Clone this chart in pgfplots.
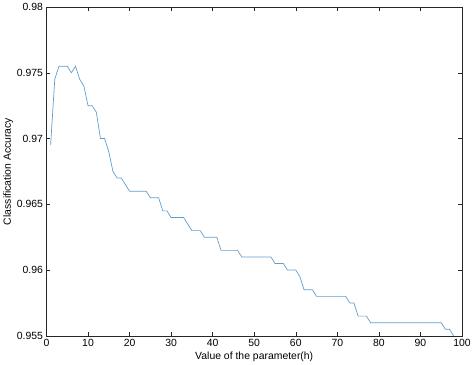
\documentclass[border=0pt]{standalone}
\usepackage{pgfplots}
\pgfplotsset{compat=1.18}
\usepackage{fontspec}
\setmainfont{Liberation Sans}
\definecolor{mblue}{rgb}{0.38,0.62,0.80}
\definecolor{axgray}{rgb}{0.15,0.15,0.15}
\begin{document}
\begin{tikzpicture}[x=1bp,y=1bp]
\begin{axis}[
  scale only axis,
  width=417bp, height=330bp,
  xmin=0, xmax=100, ymin=0.955, ymax=0.98,
  xtick={0,10,...,100},
  ytick={0.955,0.96,0.965,0.97,0.975,0.98},
  yticklabel style={/pgf/number format/.cd,fixed,precision=3},
  /pgf/number format/assume math mode=true,
  tick align=inside,
  major tick length=4bp,
  tick style={axgray, line width=0.4pt},
  axis line style={axgray, line width=0.5pt},
  ticklabel style={font=\fontsize{10.5}{12}\selectfont, text=black},
  label style={font=\fontsize{10.5}{12}\selectfont},
  xlabel={Value of the parameter(h)},
  ylabel={Classification Accuracy},
  xlabel style={yshift=2bp},
  ylabel style={yshift=-3bp},
  scaled y ticks=false,
]
\addplot[mblue, line width=0.7pt] coordinates {
(1,0.9695) (2,0.9745) (3,0.9755) (4,0.9755) (5,0.9755) (6,0.975) (7,0.9755) (8,0.9745) (9,0.974) (10,0.9725)
(11,0.9725) (12,0.972) (13,0.970) (14,0.970) (15,0.969) (16,0.9675) (17,0.967) (18,0.967) (19,0.9665) (20,0.966)
(21,0.966) (22,0.966) (23,0.966) (24,0.966) (25,0.9655) (26,0.9655) (27,0.9655) (28,0.9645) (29,0.9645) (30,0.964)
(31,0.964) (32,0.964) (33,0.964) (34,0.9635) (35,0.963) (36,0.963) (37,0.963) (38,0.9625) (39,0.9625) (40,0.9625)
(41,0.9625) (42,0.9615) (43,0.9615) (44,0.9615) (45,0.9615) (46,0.9615) (47,0.961) (48,0.961) (49,0.961) (50,0.961)
(51,0.961) (52,0.961) (53,0.961) (54,0.961) (55,0.9605) (56,0.9605) (57,0.9605) (58,0.960) (59,0.960) (60,0.960)
(61,0.9595) (62,0.9585) (63,0.9585) (64,0.9585) (65,0.958) (66,0.958) (67,0.958) (68,0.958) (69,0.958) (70,0.958)
(71,0.958) (72,0.958) (73,0.9575) (74,0.9575) (75,0.9565) (76,0.9565) (77,0.9565) (78,0.956) (79,0.956) (80,0.956)
(81,0.956) (82,0.956) (83,0.956) (84,0.956) (85,0.956) (86,0.956) (87,0.956) (88,0.956) (89,0.956) (90,0.956)
(91,0.956) (92,0.956) (93,0.956) (94,0.956) (95,0.956) (96,0.9555) (97,0.9555) (98,0.955)
};
\end{axis}
\end{tikzpicture}
\end{document}
